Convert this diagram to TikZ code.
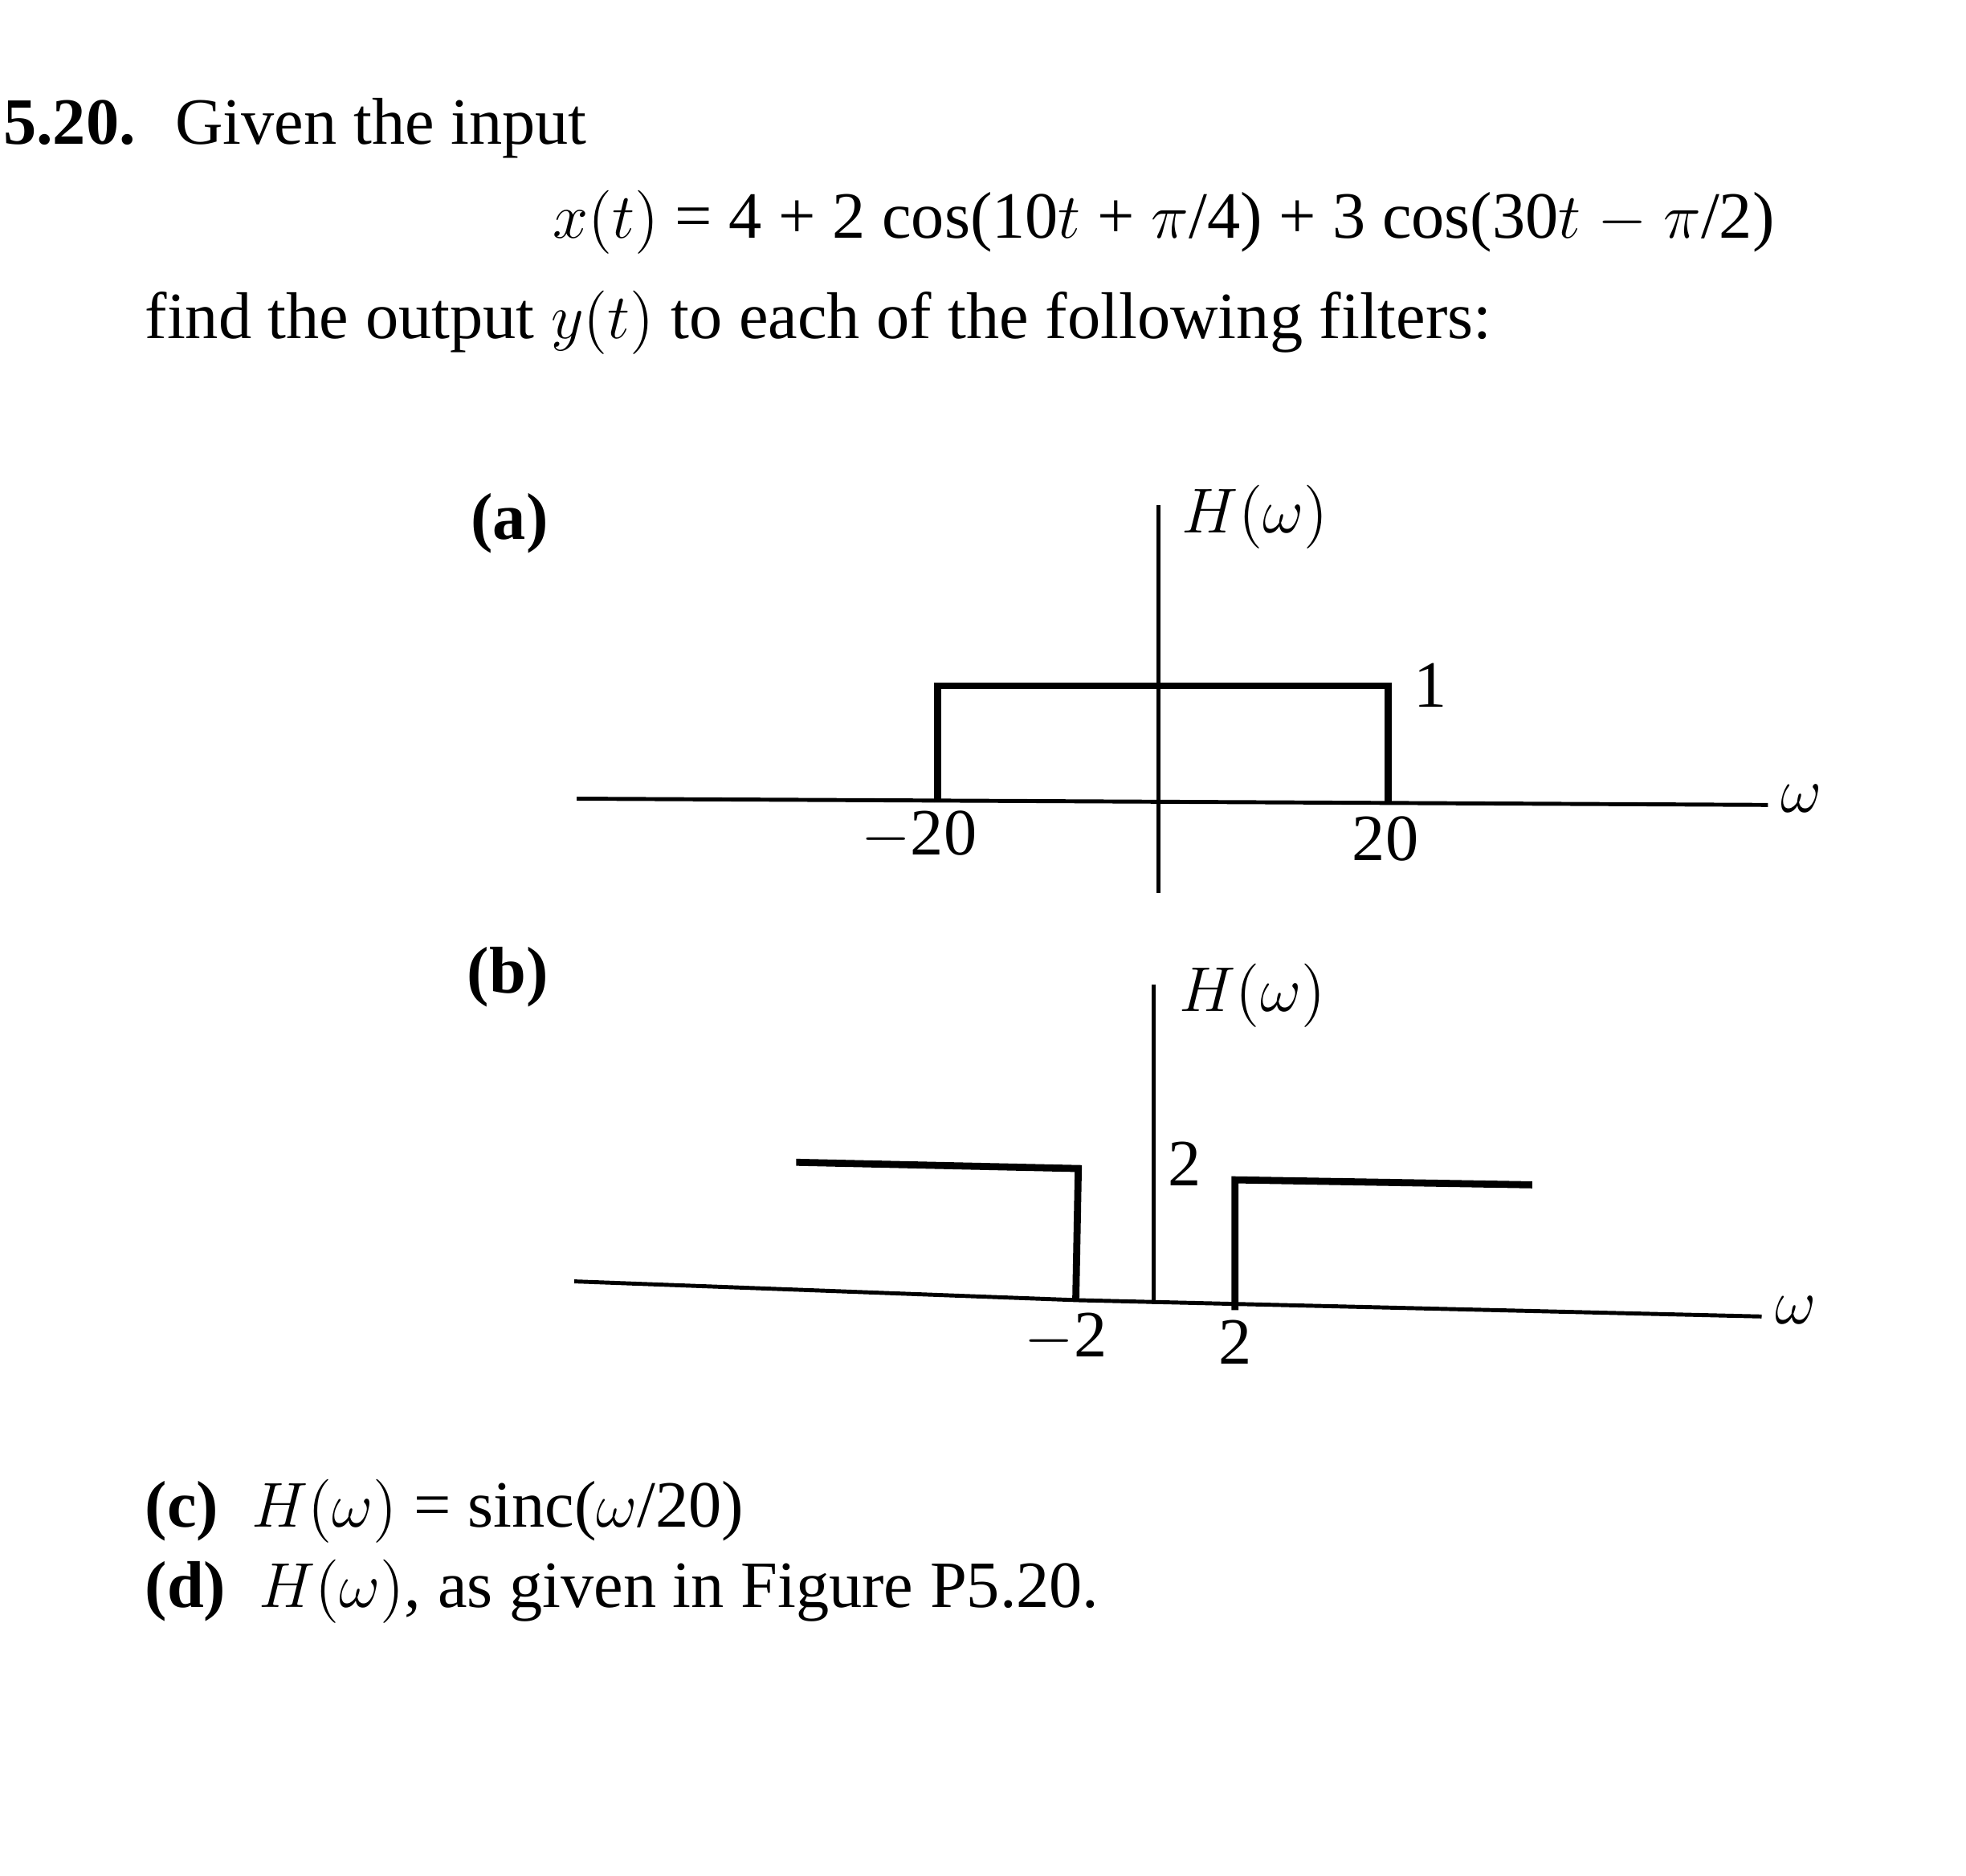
\documentclass[tikz,border=0pt]{standalone}
\usepackage{fontspec}
\setmainfont{Liberation Serif}
\begin{document}
\begin{tikzpicture}[x=0.01cm,y=-0.01cm,
  txt/.style={anchor=base west,inner sep=0pt,font=\fontsize{15}{18}\selectfont},
  ctr/.style={anchor=base,inner sep=0pt,font=\fontsize{15}{18}\selectfont},
  ln/.style={line width=0.9pt},
  box/.style={line width=1.6pt}]
\useasboundingbox (0,0) rectangle (1568,1496);
\node[txt] (t1) at (2,115) {\textbf{5.20.}\hspace{0.6em}Given the input};
\node[txt] (eq) at (440,190) {$x(t)$ = 4 + 2 cos(10$t$ + $\pi$/4) + 3 cos(30$t$ $-$ $\pi$/2)};
\node[txt] (t2) at (115,270) {find the output $y(t)$ to each of the following filters:};
% (a)
\node[txt] (la) at (375,430) {\textbf{(a)}};
\coordinate (a1) at (924,403); \coordinate (a2) at (924,712);
\draw[ln] (a1) -- (a2);
\node[txt] (ha) at (942,425) {$H(\omega)$};
\coordinate (ax1) at (460,637); \coordinate (ax2) at (1410,642);
\draw[ln] (ax1) -- (ax2);
\coordinate (r1) at (748,640); \coordinate (r2) at (748,547);
\coordinate (r3) at (1107,547); \coordinate (r4) at (1107,641);
\draw[box] (r1) -- (r2) -- (r3) -- (r4);
\node[ctr] (one) at (1141,564) {1};
\node[ctr] (m20) at (733,682) {$-$20};
\node[ctr] (p20) at (1105,686) {20};
\node[ctr] (wa) at (1437,648) {$\omega$};
% (b)
\node[txt] (lb) at (372,792) {\textbf{(b)}};
\coordinate (b1) at (920,785); \coordinate (b2) at (920,1040);
\draw[ln] (b1) -- (b2);
\node[txt] (hb) at (940,807) {$H(\omega)$};
\coordinate (bx1) at (458,1022); \coordinate (bx2) at (860,1037); \coordinate (bx3) at (1405,1050);
\draw[ln] (bx1) -- (bx2) -- (bx3);
\coordinate (s1) at (635,927); \coordinate (s2) at (860,932); \coordinate (s3) at (858,1037);
\draw[box] (s1) -- (s2) -- (s3);
\coordinate (u1) at (985,1045); \coordinate (u2) at (985,941); \coordinate (u3) at (1222,945);
\draw[box] (u1) -- (u2) -- (u3);
\node[ctr] (two) at (945,946) {2};
\node[ctr] (m2) at (850,1082) {$-$2};
\node[ctr] (p2) at (985,1088) {2};
\node[ctr] (wb) at (1432,1056) {$\omega$};
% (c),(d)
\node[txt] (c) at (115,1218) {\textbf{(c)}\hspace{0.5em}$H(\omega)$ = sinc($\omega$/20)};
\node[txt] (d) at (115,1282) {\textbf{(d)}\hspace{0.5em}$H(\omega)$, as given in Figure P5.20.};
\end{tikzpicture}
\end{document}
